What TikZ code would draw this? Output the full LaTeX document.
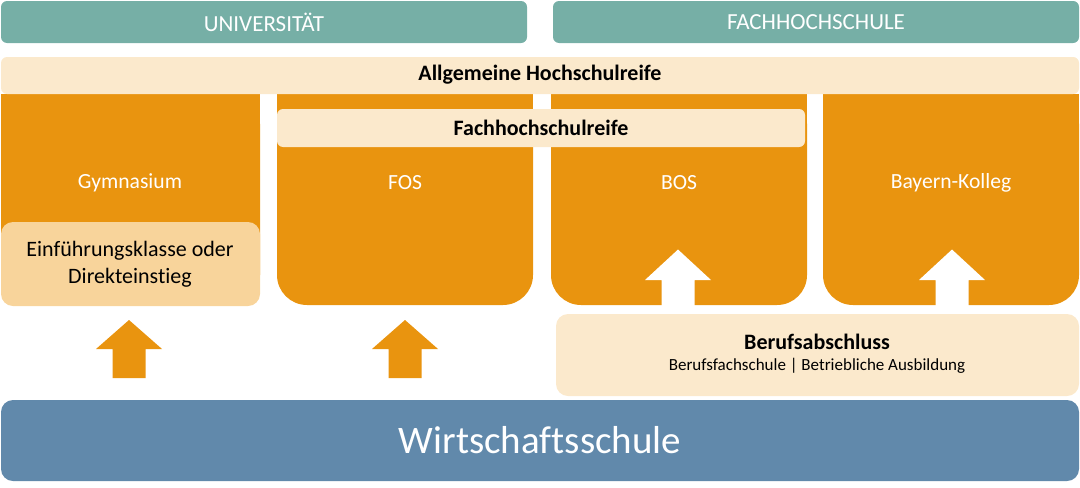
\documentclass[tikz,border=0pt]{standalone}
\usepackage{fontspec}
\setmainfont{Carlito}[Ligatures=NoCommon]
\usetikzlibrary{positioning}
\definecolor{teal1}{HTML}{76AFA6}
\definecolor{cream}{HTML}{FBE9CC}
\definecolor{ora}{HTML}{E9940F}
\definecolor{lora}{HTML}{F8D49B}
\definecolor{slate}{HTML}{6189AB}
\tikzset{
  topbar/.style={fill=teal1,rounded corners=3pt},
  toplbl/.style={text=white,font=\fontsize{11.5}{13}\selectfont},
  reife/.style={fill=cream,rounded corners=3pt},
  reifelbl/.style={font=\bfseries\fontsize{11}{13}\selectfont},
  column/.style={fill=ora,rounded corners=15pt},
  coltop/.style={fill=ora},
  collbl/.style={text=white,font=\fontsize{10.8}{12}\selectfont},
}
\begin{document}
\begin{tikzpicture}[x=0.5pt,y=-0.5pt]
  \useasboundingbox (0,0) rectangle (1080,487);
  % top level
  \fill[topbar] (1,1) rectangle (527,43);
  \node[toplbl] (uni) at (264,22) {UNIVERSITÄT};
  \fill[topbar] (553,1) rectangle (1079,43);
  \node[toplbl] (fh) at (816,22) {FACHHOCHSCHULE};
  % school columns
  \foreach \xa/\xb in {1/260,277/533,551/807,823/1079}{
    \fill[column] (\xa,94) rectangle (\xb,305);
    \fill[coltop] (\xa,94) rectangle (\xb,130);
  }
  \node[collbl] (gym) at (130,183) {Gymnasium};
  \node[collbl] (fos) at (405,183) {FOS};
  \node[collbl] (bos) at (679,183) {BOS};
  \node[collbl] (bk) at (951,183) {Bayern-Kolleg};
  % entrance class
  \fill[fill=lora,rounded corners=6pt] (1,222) rectangle (260,306);
  \node[align=center,font=\fontsize{11}{13.5}\selectfont] (einf) at (130,264)
    {Einführungsklasse oder\\Direkteinstieg};
  % qualifications
  \fill[reife] (1,57) rectangle (1079,94);
  \node[reifelbl] (ahr) at (540,75) {Allgemeine Hochschulreife};
  \fill[reife] (277,109) rectangle (805,147);
  \node[reifelbl] (fhr) at (541,128) {Fachhochschulreife};
  % vocational degree
  \fill[reife,rounded corners=6pt] (556,314) rectangle (1079,396);
  \node[font=\bfseries\fontsize{11}{13}\selectfont] (ba) at (817,342) {Berufsabschluss};
  \node[font=\fontsize{8.5}{10}\selectfont] (baz) at (817,366) {Berufsfachschule | Betriebliche Ausbildung};
  % base
  \fill[fill=slate,rounded corners=6pt] (1,400) rectangle (1079,481);
  \node[text=white,font=\fontsize{19.5}{23}\selectfont] (ws) at (540,440) {Wirtschaftsschule};
  % block arrows: x / tip / head base / bottom / colour
  \foreach \cx/\yt/\yh/\yb/\col in {129/320/349/378/ora,405/320/349/378/ora,
      678/249.5/280/307/white,952/249.5/280/307/white}{
    \fill[\col] (\cx,\yt) -- (\cx+33,\yh) -- (\cx+16.5,\yh) -- (\cx+16.5,\yb)
      -- (\cx-16.5,\yb) -- (\cx-16.5,\yh) -- (\cx-33,\yh) -- cycle;
  }
\end{tikzpicture}
\end{document}
